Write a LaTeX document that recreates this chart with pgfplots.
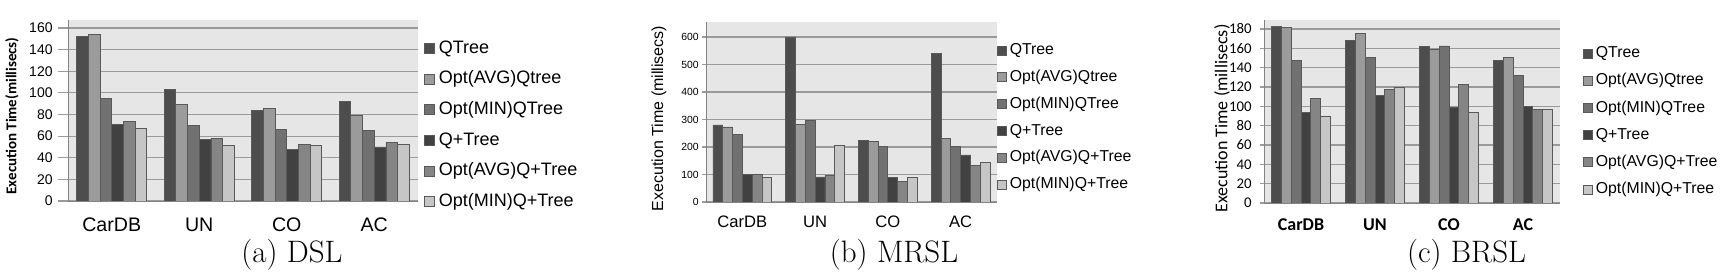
\documentclass[border=0pt]{standalone}
\usepackage{fontspec}
\usepackage{pgfplots}
\usepackage{pgfplotstable}
\pgfplotsset{compat=1.18}
\newfontfamily\lib{Liberation Sans}
\newfontfamily\carl{Carlito}
\definecolor{cA}{HTML}{4D4D4D}
\definecolor{cB}{HTML}{9B9B9B}
\definecolor{cC}{HTML}{717171}
\definecolor{cD}{HTML}{414141}
\definecolor{cE}{HTML}{858585}
\definecolor{cF}{HTML}{C6C6C6}
\definecolor{bgg}{HTML}{E6E6E6}
\definecolor{grd}{HTML}{9A9A9A}

\pgfplotstableread{
x a b c d e f
0 152 154 95 71 73.5 67
1 103 89 70 57 58 51
2 84 85.5 66.5 48 52 51
3 92 79 65 50 54.5 52
}\dsl
\pgfplotstableread{
x a b c d e f
0 280 273 245 100 100 88
1 600 281 295 91 98 206
2 225 219 203 88 76 88
3 539 231 203 171 132 145
}\mrsl
\pgfplotstableread{
x a b c d e f
0 183 182 147 94 108 90
1 168.5 175.5 151 111 117 120
2 161.5 158.5 162.5 98.5 123 94
3 147 151 132 99.5 97 96.5
}\brsl

\pgfplotsset{
  myaxis/.style={
    scale only axis, anchor=south west,
    xmin=-0.5, xmax=3.5, ymin=0,
    xtick={0,1,2,3}, xticklabels={CarDB,UN,CO,AC},
    axis background/.style={fill=bgg},
    axis x line*=bottom, axis y line*=left,
    axis line style={draw=grd!85!black, -},
    ymajorgrids, grid style={draw=grd, line width=0.6pt},
    tick align=outside,
    xtick style={draw=none},
    ytick style={draw=grd, line width=0.6pt},
    ybar=0pt,
    /pgf/number format/assume math mode=true,
    yticklabel style={anchor=east, inner sep=0pt},
    xticklabel style={anchor=base, inner sep=0pt},
    ylabel style={anchor=center},
    legend cell align=left,
    legend style={anchor=north west, draw=none, fill=none, inner sep=0pt, outer sep=0pt},
    cycle list={
      {fill=cA, draw=black!65, line width=0.4pt},
      {fill=cB, draw=black!65, line width=0.4pt},
      {fill=cC, draw=black!65, line width=0.4pt},
      {fill=cD, draw=black!65, line width=0.4pt},
      {fill=cE, draw=black!65, line width=0.4pt},
      {fill=cF, draw=black!65, line width=0.4pt}},
    legend entries={QTree,Opt(AVG)Qtree,Opt(MIN)QTree,Q+Tree,Opt(AVG)Q+Tree,Opt(MIN)Q+Tree},
  }
}

\begin{document}
\begin{tikzpicture}
\path[use as bounding box] (0,0) rectangle (862.5pt,136pt);

% (a) DSL
\begin{axis}[myaxis, at={(34pt,35.5pt)}, width=175pt, height=90.5pt,
  ymax=167.4, ytick={0,20,...,160}, bar width=5.85pt, major tick length=5pt,
  yticklabel style={font=\lib\fontsize{7}{8}\selectfont, xshift=-2.5pt},
  xticklabel style={font=\lib\fontsize{9.8}{11}\selectfont, yshift=-10.5pt},
  ylabel={Execution Time(millisecs)},
  ylabel style={font=\carl\bfseries\fontsize{7.5}{9}\selectfont, at={(axis description cs:-0.16,0.47)}},
  legend style={at={(1.017,0.891)}, font=\lib\fontsize{9}{10}\selectfont, row sep=6.5pt,
    nodes={text height=6.8pt, text depth=2pt, inner xsep=2pt, inner ysep=0pt}},
  legend image code/.code={\draw[#1] (0pt,-2.5pt) rectangle (5pt,2.5pt);}]
\addplot table[x=x,y=a]{\dsl};
\addplot table[x=x,y=b]{\dsl};
\addplot table[x=x,y=c]{\dsl};
\addplot table[x=x,y=d]{\dsl};
\addplot table[x=x,y=e]{\dsl};
\addplot table[x=x,y=f]{\dsl};
\end{axis}

% (b) MRSL
\begin{axis}[myaxis, at={(353pt,35pt)}, width=145.5pt, height=90pt,
  ymax=654.5, ytick={0,100,...,600}, bar width=4.9pt, major tick length=2pt,
  yticklabel style={font=\lib\fontsize{5.2}{6}\selectfont, xshift=-1.5pt},
  xticklabel style={font=\lib\fontsize{8.3}{10}\selectfont, yshift=-11pt},
  ylabel={Execution Time (millisecs)},
  ylabel style={font=\lib\fontsize{8}{9}\selectfont, at={(axis description cs:-0.1615,0.464)}},
  legend style={at={(1.0,0.884)}, font=\lib\fontsize{7.9}{9}\selectfont, row sep=5.8pt,
    nodes={text height=5.9pt, text depth=1.7pt, inner xsep=1.5pt, inner ysep=0pt}},
  legend image code/.code={\draw[#1] (0pt,-2.25pt) rectangle (4.5pt,2.25pt);}]
\addplot table[x=x,y=a]{\mrsl};
\addplot table[x=x,y=b]{\mrsl};
\addplot table[x=x,y=c]{\mrsl};
\addplot table[x=x,y=d]{\mrsl};
\addplot table[x=x,y=e]{\mrsl};
\addplot table[x=x,y=f]{\mrsl};
\end{axis}

% (c) BRSL
\begin{axis}[myaxis, at={(632pt,34.5pt)}, width=148pt, height=91.5pt,
  ymax=189.3, ytick={0,20,...,180}, bar width=4.92pt, major tick length=2pt,
  yticklabel style={font=\carl\fontsize{7.4}{8}\selectfont, xshift=-4pt},
  xticklabel style={font=\carl\bfseries\fontsize{9}{10}\selectfont, yshift=-12pt},
  ylabel={Execution Time (millisecs)},
  ylabel style={font=\carl\fontsize{9}{10}\selectfont, at={(axis description cs:-0.142,0.462)}},
  legend style={at={(1.078,0.859)}, font=\lib\fontsize{7.9}{9}\selectfont, row sep=6pt,
    nodes={text height=5.9pt, text depth=1.7pt, inner xsep=1.5pt, inner ysep=0pt}},
  legend image code/.code={\draw[#1] (0pt,-2.25pt) rectangle (4.5pt,2.25pt);}]
\addplot table[x=x,y=a]{\brsl};
\addplot table[x=x,y=b]{\brsl};
\addplot table[x=x,y=c]{\brsl};
\addplot table[x=x,y=d]{\brsl};
\addplot table[x=x,y=e]{\brsl};
\addplot table[x=x,y=f]{\brsl};
\end{axis}

\node[anchor=base, font=\fontsize{15.5}{18}\selectfont] at (146pt,4.5pt) {(a) DSL};
\node[anchor=base, font=\fontsize{15.5}{18}\selectfont] at (447pt,4.5pt) {(b) MRSL};
\node[anchor=base, font=\fontsize{15.5}{18}\selectfont] at (733.25pt,4.5pt) {(c) BRSL};
\end{tikzpicture}
\end{document}
